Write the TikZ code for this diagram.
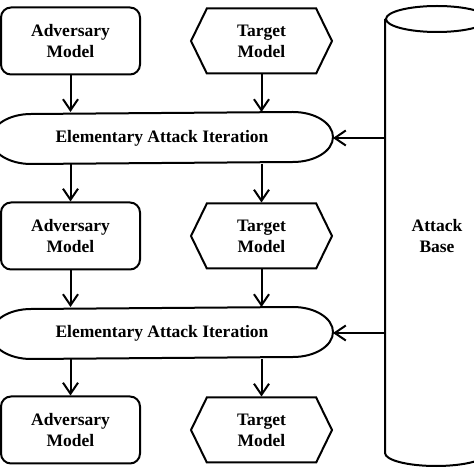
\documentclass[tikz,border=0pt]{standalone}
\usepackage{fontspec}
\setmainfont{Liberation Serif}
\usetikzlibrary{arrows.meta,shapes.symbols}

\tikzset{
  every node/.style={font=\fontsize{17.5}{21}\selectfont\bfseries, align=center},
  advbox/.style={draw, line width=2pt, rounded corners=10pt, minimum width=139pt, minimum height=67pt},
  tgtbox/.style={draw, line width=2pt, shape=signal, signal to=west and east, signal pointer angle=128, minimum width=141pt, minimum height=65pt},
  iterbox/.style={minimum width=340pt, minimum height=50pt},
  arr/.style={draw, line width=2pt, -{Straight Barb[length=11pt,width=15pt,line width=2pt]}}
}

\begin{document}
\begin{tikzpicture}[x=1pt, y=1pt, line width=2pt]

\useasboundingbox (0,0) rectangle (474,474);
\clip (0,0) rectangle (474,474);

\node[advbox] (adv1) at (70.5, 433) {Adversary\\Model};
\node[tgtbox] (tgt1) at (261.5, 433) {Target\\Model};
\node[iterbox] (it1) at (162, 336) {Elementary Attack Iteration};

\node[advbox] (adv2) at (70.5, 238) {Adversary\\Model};
\node[tgtbox] (tgt2) at (261.5, 238) {Target\\Model};
\node[iterbox] (it2) at (162, 141) {Elementary Attack Iteration};

\node[advbox] (adv3) at (70.5, 44) {Adversary\\Model};
\node[tgtbox] (tgt3) at (261.5, 44) {Target\\Model};

\node[minimum width=102pt, minimum height=458pt] (base) at (437, 238) {Attack\\Base};

% iteration outlines
\foreach \n in {it1, it2} {
  \draw ([xshift=40pt]\n.south west)
    arc[start angle=270, end angle=90, x radius=40pt, y radius=25pt]
    -- ([xshift=-40pt]\n.north east)
    arc[start angle=90, end angle=-90, x radius=40pt, y radius=25pt]
    -- cycle;
}

% attack base cylinder
\draw ([yshift=-13pt]base.north) ellipse[x radius=51pt, y radius=13pt];
\draw ([yshift=-13pt]base.north west) -- ([yshift=13pt]base.south west)
  arc[start angle=180, end angle=360, x radius=51pt, y radius=13pt]
  -- ([yshift=-13pt]base.north east);

% arrows
\draw[arr] (adv1.south) -- (adv1.south |- it1.north);
\draw[arr] (tgt1.south) -- (tgt1.south |- it1.north);
\draw[arr] (adv2.north |- it1.south) -- (adv2.north);
\draw[arr] (tgt2.north |- it1.south) -- (tgt2.north);
\draw[arr] (adv2.south) -- (adv2.south |- it2.north);
\draw[arr] (tgt2.south) -- (tgt2.south |- it2.north);
\draw[arr] (adv3.north |- it2.south) -- (adv3.north);
\draw[arr] (tgt3.north |- it2.south) -- (tgt3.north);
\draw[arr] (base.west |- it1.east) -- (it1.east);
\draw[arr] (base.west |- it2.east) -- (it2.east);

\end{tikzpicture}
\end{document}
